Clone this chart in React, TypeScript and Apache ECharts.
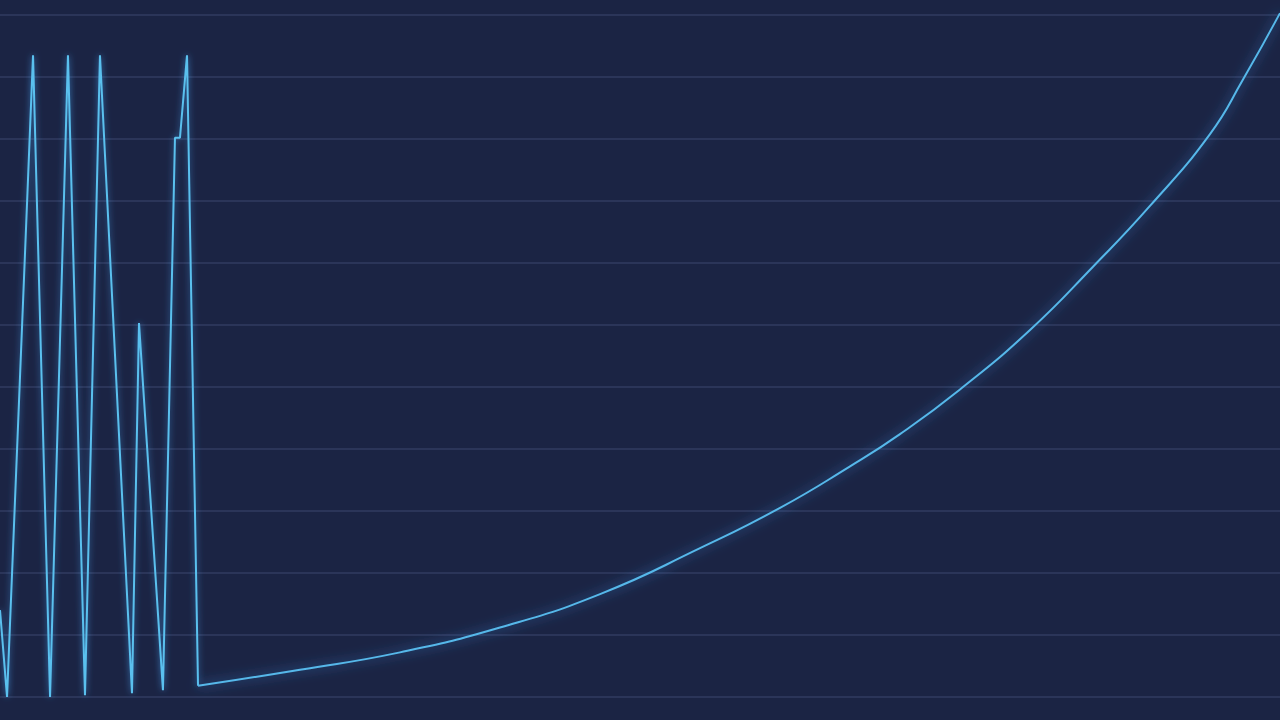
import React, { useEffect, useRef } from "react";
import * as echarts from "echarts";

// Spiky opening section (x in time units 0..100, y in value units 0..110)
const spikeX = [0, 0.55, 2.58, 3.91, 5.31, 6.64, 7.81, 10.31, 10.86, 12.73, 13.67, 14.06, 14.61, 15.47];
const spikeY = [14.0, 0, 103.5, 0, 103.5, 0.3, 103.5, 0.6, 60.3, 1.1, 90.2, 90.2, 103.5, 1.8];

// Smooth rising curve afterwards
const curveX = [15.47, 23.44, 31.25, 39.06, 46.88, 54.69, 60.94, 66.41, 70.31, 75.0, 80.47, 85.39, 89.84, 94.53, 97.11, 100];
const curveY = [1.8, 4.4, 7.2, 11.2, 16.6, 24.0, 30.5, 37.2, 42.4, 49.6, 59.2, 69.4, 79.2, 90.8, 99.6, 110.3];

const yTicks = [0, 10, 20, 30, 40, 50, 60, 70, 80, 90, 100, 110];

export default function App() {
  const ref = useRef<HTMLDivElement>(null);
  useEffect(() => {
    if (!ref.current) return;
    const chart = echarts.init(ref.current, undefined, { renderer: "svg" });
    const spikeStyle = {
      color: "#5ac0ee",
      width: 2,
      shadowColor: "rgba(70,160,240,0.7)",
      shadowBlur: 6,
    };
    const curveStyle = {
      color: "#56b8ea",
      width: 2,
      shadowColor: "rgba(60,150,240,0.85)",
      shadowBlur: 12,
    };
    chart.setOption({
      animation: false,
      backgroundColor: "#1b2444",
      grid: { left: 0, right: 0, top: 15, bottom: 23, containLabel: false },
      xAxis: {
        type: "value",
        min: 0,
        max: 100,
        show: true,
        axisLine: { show: false },
        axisTick: { show: false },
        axisLabel: { show: false },
        splitLine: { show: false },
      },
      yAxis: {
        type: "value",
        min: yTicks[0],
        max: yTicks[yTicks.length - 1],
        interval: 10,
        axisLine: { show: false },
        axisTick: { show: false },
        axisLabel: { show: false },
        splitLine: { show: true, lineStyle: { color: "rgba(120,140,190,0.24)", width: 1.5 } },
      },
      series: [
        {
          type: "line",
          data: spikeX.map((x, i) => [x, spikeY[i]]),
          showSymbol: false,
          clip: false,
          lineStyle: spikeStyle,
        },
        {
          type: "line",
          data: curveX.map((x, i) => [x, curveY[i]]),
          showSymbol: false,
          smooth: 0.5,
          clip: false,
          lineStyle: curveStyle,
        },
      ],
    });
    return () => chart.dispose();
  }, []);
  return (
    <div
      ref={ref}
      style={{ position: "fixed", left: 0, top: 0, width: 1280, height: 720, background: "#1b2444" }}
    />
  );
}
